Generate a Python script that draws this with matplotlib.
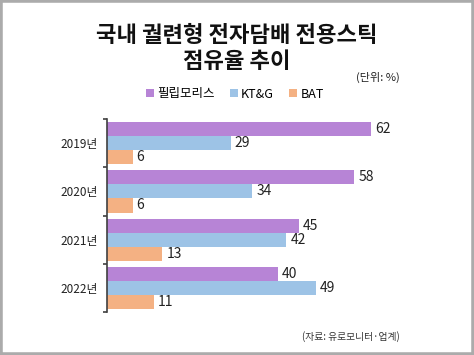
import numpy as np
import matplotlib.pyplot as plt
from matplotlib.patches import Rectangle

plt.rcParams['font.family'] = ['Noto Sans CJK KR', 'DejaVu Sans']

years = ['2019년', '2020년', '2021년', '2022년']
series_names = ['필립모리스', 'KT&G', 'BAT']
pm_vals = [62, 58, 45, 40]
ktg_vals = [29, 34, 42, 49]
bat_vals = [6, 6, 13, 11]
colors = ['#B784D6', '#9DC3E6', '#F4B183']

fig = plt.figure(figsize=(4.74, 3.55), dpi=100)
fig.patch.set_facecolor('white')
ax = fig.add_axes([0.2257, 0.121, 0.63, 0.5437])

y = np.arange(len(years))
h = 0.875 / 3
all_vals = [pm_vals, ktg_vals, bat_vals]
for i, (vals, name, c) in enumerate(zip(all_vals, series_names, colors)):
    pos = y + (i - 1) * h
    bars = ax.barh(pos, vals, height=h, color=c, label=name)
    for b, v in zip(bars, vals):
        ax.annotate(str(v), xy=(v, b.get_y() + b.get_height() / 2),
                    xytext=(3, 0), textcoords='offset points',
                    ha='left', va='center', fontsize=10, color='#222222')

ax.set_xlim(0, 70)
ax.set_ylim(3.5, -0.5)
for s in ['top', 'right', 'bottom']:
    ax.spines[s].set_visible(False)
ax.spines['left'].set_color('#404040')
ax.spines['left'].set_linewidth(1.2)
ax.set_xticks([])
ax.set_yticks(np.arange(-0.5, 4, 1))
ax.set_yticklabels([])
ax.tick_params(axis='y', which='major', length=3, width=1.2, color='#404040')
ax.set_yticks(y, minor=True)
ax.set_yticklabels(years, minor=True, fontsize=8.5, color='#222222')
ax.tick_params(axis='y', which='minor', length=0, pad=6.5)

fig.text(0.5, 1 - 35 / 355, '국내 궐련형 전자담배 전용스틱', ha='center', va='center',
         fontsize=16, fontweight='bold', color='#111111')
fig.text(0.5, 1 - 62 / 355, '점유율 추이', ha='center', va='center',
         fontsize=16, fontweight='bold', color='#111111')
fig.text(400 / 474, 1 - 77 / 355, '(단위: %)', ha='right', va='center',
         fontsize=8, color='#222222')
fig.text(400 / 474, 1 - 337 / 355, '(자료: 유로모니터·업계)', ha='right', va='center',
         fontsize=7, color='#333333')

handles, labels = ax.get_legend_handles_labels()
fig.legend(handles, labels, loc='center', bbox_to_anchor=(235 / 474, 1 - 94 / 355),
           ncol=3, frameon=False, fontsize=9, handlelength=0.6, handleheight=0.6,
           handletextpad=0.3, columnspacing=1.2)

fig.patches.append(Rectangle((0, 0), 1, 1, transform=fig.transFigure, fill=False,
                             edgecolor='#ABABAB', linewidth=4, zorder=10))

fig.savefig('out.png', dpi=100)
